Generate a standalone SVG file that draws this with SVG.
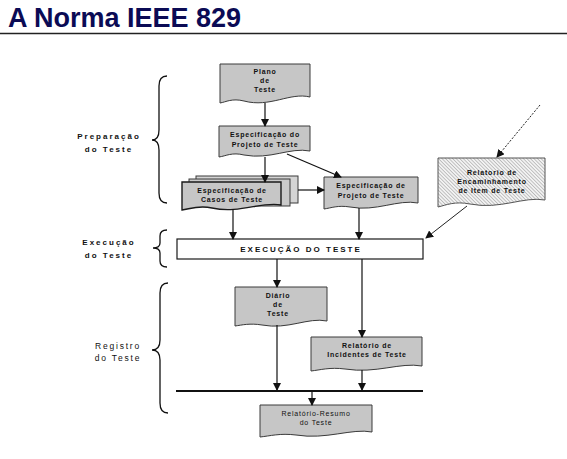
<svg xmlns="http://www.w3.org/2000/svg" width="567" height="459" viewBox="0 0 567 459">
<style>
.doc{fill:#c6c6c6;stroke:#3a3a3a;stroke-width:1}
.t{font-family:"Liberation Sans",Arial,sans-serif;font-size:7px;font-weight:bold;letter-spacing:0.8px;fill:#111;text-anchor:middle}
.tr{font-family:"Liberation Sans",Arial,sans-serif;font-size:7px;letter-spacing:0.8px;fill:#111;text-anchor:middle}
.lab{font-family:"Liberation Sans",Arial,sans-serif;font-size:8px;font-weight:bold;letter-spacing:2px;fill:#111;text-anchor:middle}
.labr{font-family:"Liberation Sans",Arial,sans-serif;font-size:8.5px;letter-spacing:1.8px;fill:#111;text-anchor:middle}
.ln{stroke:#111;stroke-width:1.2;fill:none}
.br{stroke:#111;stroke-width:1.3;fill:none}
</style>
<defs>
<marker id="ah" markerWidth="8" markerHeight="8" refX="7" refY="4" orient="auto" markerUnits="userSpaceOnUse"><path d="M0,0 L8,4 L0,8 Z" fill="#111"/></marker>
<pattern id="hatch" width="2.5" height="2.5" patternUnits="userSpaceOnUse" patternTransform="rotate(-45)"><rect width="2.5" height="2.5" fill="#f2f2f2"/><line x1="0" y1="0" x2="0" y2="2.5" stroke="#7a7a7a" stroke-width="0.8"/></pattern>
</defs>
<rect width="567" height="459" fill="#ffffff"/>
<g id="title">
<text x="8" y="27" font-family="Liberation Sans,Arial,sans-serif" font-size="27" font-weight="bold" fill="#0b0b55">A Norma IEEE 829</text>
<line x1="0" y1="33.5" x2="567" y2="33.5" stroke="#222" stroke-width="1.5"/>
</g>
<g id="braces">
<path class="br" d="M167,76 Q159,76 159,86 V130 Q159,140 152,140 Q159,140 159,150 V193 Q159,203 167,203"/>
<text class="lab" x="109" y="139">Preparação</text>
<text class="lab" x="109" y="152">do Teste</text>
<path class="br" d="M167,230 Q160,230 160,236 V243 Q160,248 153,248 Q160,248 160,253 V261 Q160,267 167,267"/>
<text class="lab" x="109" y="245">Execução</text>
<text class="lab" x="109" y="258">do Teste</text>
<path class="br" d="M168,283 Q160,283 160,293 V340 Q160,350 152,350 Q160,350 160,360 V403 Q160,413 168,413"/>
<text class="labr" x="118" y="349">Registro</text>
<text class="labr" x="118" y="361">do Teste</text>
</g>
<g id="plano">
<path class="doc" d="M220,64 H310 V97 C290,92 270,108 244,101 C232,98 226,102 220,103 Z"/>
<text class="t" x="265" y="74">Plano</text>
<text class="t" x="265" y="83">de</text>
<text class="t" x="265" y="92">Teste</text>
</g>
<g id="espec1">
<path class="doc" d="M219,126 H310 V151 C290,147 270,160 244,155 C232,152 226,156 219,157 Z"/>
<text class="t" x="265" y="137">Especificação do</text>
<text class="t" x="265" y="147">Projeto de Teste</text>
</g>
<g id="casos">
<rect x="196" y="176" width="102" height="27" fill="#d4d4d4" stroke="#3a3a3a" stroke-width="1"/>
<rect x="189" y="179" width="101" height="27" fill="#cacaca" stroke="#3a3a3a" stroke-width="1"/>
<path d="M182,182 H281 V205 C262,201 240,214 212,208 C198,205 190,209 182,210 Z" fill="#c6c6c6" stroke="#1a1a1a" stroke-width="1.4"/>
<text class="t" x="232" y="193">Especificação de</text>
<text class="t" x="232" y="202">Casos de Teste</text>
</g>
<g id="espec2">
<path class="doc" d="M324,177 H418 V203 C398,199 376,212 350,207 C338,205 331,208 324,209 Z"/>
<text class="t" x="371" y="188">Especificação de</text>
<text class="t" x="371" y="198">Projeto de Teste</text>
</g>
<g id="encaminhamento">
<path d="M438,158 H545 V200 C524,196 500,210 470,204 C455,201 446,205 438,207 Z" fill="url(#hatch)" stroke="#555" stroke-width="1"/>
<text class="t" x="492" y="175">Relatorio de</text>
<text class="t" x="492" y="184">Encaminhamento</text>
<text class="t" x="492" y="193">de Item de Teste</text>
</g>
<g id="execucao">
<rect x="177" y="239" width="246" height="20" fill="#fff" stroke="#1a1a1a" stroke-width="1.2"/>
<text class="lab" x="301" y="252">EXECUÇÃO DO TESTE</text>
</g>
<g id="diario">
<path class="doc" d="M235,287 H327 V321 C308,317 288,330 262,325 C250,323 242,325 235,326 Z"/>
<text class="t" x="278" y="298">Diário</text>
<text class="t" x="278" y="307">de</text>
<text class="t" x="278" y="316">Teste</text>
</g>
<g id="incidentes">
<path class="doc" d="M311,337 H422 V366 C400,362 376,374 345,369 C330,367 320,370 311,371 Z"/>
<text class="t" x="367" y="348">Relatório de</text>
<text class="t" x="367" y="357">Incidentes de Teste</text>
</g>
<g id="resumo">
<path class="doc" d="M260,405 H372 V432 C352,428 326,440 296,435 C280,433 270,436 260,437 Z"/>
<text class="tr" x="316" y="416">Relatório-Resumo</text>
<text class="tr" x="316" y="425">do Teste</text>
</g>
<g id="connectors">
<line class="ln" x1="265" y1="103" x2="265" y2="126" marker-end="url(#ah)"/>
<line class="ln" x1="265" y1="157" x2="265" y2="182" marker-end="url(#ah)"/>
<line class="ln" x1="287" y1="154" x2="341" y2="177" marker-end="url(#ah)"/>
<line class="ln" x1="298" y1="190" x2="324" y2="190" marker-end="url(#ah)"/>
<line class="ln" x1="233" y1="209" x2="233" y2="239" marker-end="url(#ah)"/>
<line class="ln" x1="359" y1="208" x2="359" y2="239" marker-end="url(#ah)"/>
<line x1="540" y1="105" x2="497" y2="157" stroke="#222" stroke-width="1" stroke-dasharray="2,1.5" marker-end="url(#ah)"/>
<line x1="467" y1="206" x2="426" y2="238" stroke="#222" stroke-width="1" marker-end="url(#ah)"/>
<line class="ln" x1="277" y1="259" x2="277" y2="287" marker-end="url(#ah)"/>
<line class="ln" x1="362" y1="259" x2="362" y2="337" marker-end="url(#ah)"/>
<line class="ln" x1="277" y1="325" x2="277" y2="390" marker-end="url(#ah)"/>
<line class="ln" x1="362" y1="370" x2="362" y2="390" marker-end="url(#ah)"/>
<line x1="176" y1="391" x2="423" y2="391" stroke="#111" stroke-width="2"/>
<line class="ln" x1="312" y1="392" x2="312" y2="405" marker-end="url(#ah)"/>
</g>
</svg>
